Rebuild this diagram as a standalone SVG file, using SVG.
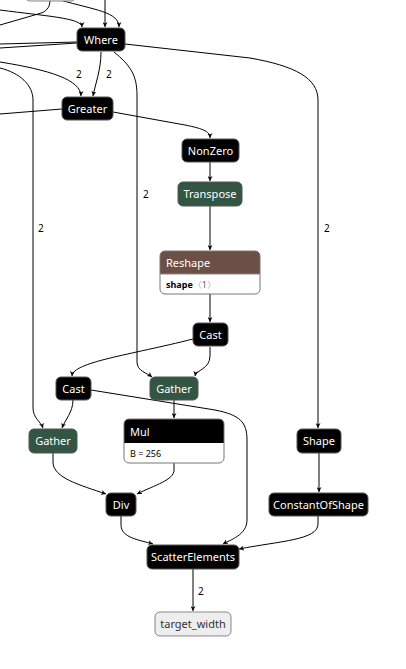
<svg xmlns="http://www.w3.org/2000/svg" width="406" height="669" viewBox="0 0 406 669">
<defs>
<marker id="arr" viewBox="0 0 10 10" refX="10" refY="5" markerWidth="5" markerHeight="5" orient="auto" markerUnits="userSpaceOnUse">
<path d="M0,0 L10,5 L0,10 L3,5 z" fill="#000"/>
</marker>
<style>
.e{fill:none;stroke:#000;stroke-width:1}
.a{marker-end:url(#arr)}
.lbl{font-family:"Noto Sans","Liberation Sans",sans-serif;font-size:10px;fill:#000}
.blk{fill:#000;stroke:#555;stroke-width:1}
.grn{fill:#335544;stroke:#555;stroke-width:1}
.t{font-family:"Noto Sans","Liberation Sans",sans-serif;font-size:11px;fill:#fff;text-anchor:middle}
.hl{font-family:"Noto Sans","Liberation Sans",sans-serif;font-size:11px;fill:#fff}
.at{font-family:"Noto Sans","Liberation Sans",sans-serif;font-size:9px;fill:#000}
</style>
</defs>
<rect width="406" height="669" fill="#fff"/>
<g id="connectors">
<path class="e" d="M50,0 C50,8 46,12 38,14 L0,25"/>
<path class="e a" d="M60,0 C95,10 119,12 119,27"/>
<path class="e a" d="M0,10 C45,16 82,18 82,27"/>
<path class="e a" d="M105,0 L105,27"/>
<path class="e" d="M77,42 L0,44"/>
<path class="e" d="M77,43 L0,48"/>
<path class="e a" d="M0,62 C50,70 81,80 81,96"/>
<path class="e a" d="M101,52 C101,70 95,85 93,96"/>
<path class="e a" d="M0,68 C20,73 33,85 33,100 L33,408 C33,418 41,422 43,428"/>
<path class="e a" d="M114,52 C130,65 137,75 137,95 L137,362 C137,371 147,373 152,377"/>
<path class="e a" d="M125,44 L250,58 C295,66 318,78 318,100 L318,428"/>
<path class="e" d="M62,109 L0,114"/>
<path class="e a" d="M113,112 L185,125 C205,129 210,132 210,138"/>
<path class="e a" d="M210,162 L210,181"/>
<path class="e a" d="M210,206 L210,250"/>
<path class="e a" d="M210,294 L210,322"/>
<path class="e a" d="M193,339 C130,355 73,362 72,376"/>
<path class="e a" d="M210,347 L210,356 C210,369 196,370 195,376"/>
<path class="e a" d="M73,400 C73,412 65,420 62,428"/>
<path class="e a" d="M91,390 L215,410 C240,415 247,422 247,440 L247,520 C247,535 230,540 223,544"/>
<path class="e a" d="M174,400 L174,418"/>
<path class="e a" d="M53,453 L53,462 C53,478 80,485 106,494"/>
<path class="e a" d="M174,463 L174,470 C174,480 155,485 137,494"/>
<path class="e a" d="M121,516 L121,525 C121,538 140,540 153,544"/>
<path class="e a" d="M319,453 L319,492"/>
<path class="e a" d="M318,516 L318,524 C318,540 280,541 239,549"/>
<path class="e a" d="M193,569 L193,611"/>
<text class="lbl" x="76" y="78">2</text>
<text class="lbl" x="106" y="78">2</text>
<text class="lbl" x="38" y="232">2</text>
<text class="lbl" x="143" y="198">2</text>
<text class="lbl" x="324" y="232">2</text>
<text class="lbl" x="198" y="595">2</text>
</g>
<g id="input-top"><rect x="25" y="-22" width="51" height="23" rx="5" fill="#eee" stroke="#888"/></g>
<g id="Where"><rect class="blk" x="77" y="28" width="48" height="23" rx="5"/><text class="t" x="101" y="44">Where</text></g>
<g id="Greater"><rect class="blk" x="62" y="97" width="51" height="23" rx="5"/><text class="t" x="87.5" y="113">Greater</text></g>
<g id="NonZero"><rect class="blk" x="182" y="139" width="57" height="23" rx="5"/><text class="t" x="210.5" y="155">NonZero</text></g>
<g id="Transpose"><rect class="grn" x="178" y="182" width="64" height="24" rx="5"/><text class="t" x="210" y="198">Transpose</text></g>
<g id="Reshape">
<path d="M160,274 L160,256 Q160,251 165,251 L255,251 Q260,251 260,256 L260,274 Z" fill="#6c4f47"/>
<path d="M160,274 L260,274 L260,289 Q260,294 255,294 L165,294 Q160,294 160,289 Z" fill="#fff"/>
<rect x="160" y="251" width="100" height="43" rx="5" fill="none" stroke="#777"/>
<line x1="160" y1="274" x2="260" y2="274" stroke="#888"/>
<text class="hl" x="166" y="267">Reshape</text>
<text class="at" x="166" y="288"><tspan font-weight="bold">shape</tspan><tspan fill="#666">〈1〉</tspan></text>
</g>
<g id="Cast1"><rect class="blk" x="193" y="323" width="35" height="23" rx="5"/><text class="t" x="210.5" y="339">Cast</text></g>
<g id="Cast2"><rect class="blk" x="56" y="377" width="35" height="23" rx="5"/><text class="t" x="73.5" y="393">Cast</text></g>
<g id="Gather1"><rect class="grn" x="150" y="377" width="48" height="23" rx="5"/><text class="t" x="174" y="393">Gather</text></g>
<g id="Gather2"><rect class="grn" x="29" y="429" width="48" height="24" rx="5"/><text class="t" x="53" y="445">Gather</text></g>
<g id="Mul">
<path d="M124,443 L124,424 Q124,419 129,419 L219,419 Q224,419 224,424 L224,443 Z" fill="#000"/>
<path d="M124,443 L224,443 L224,458 Q224,463 219,463 L129,463 Q124,463 124,458 Z" fill="#fff"/>
<rect x="124" y="419" width="100" height="44" rx="5" fill="none" stroke="#777"/>
<text class="hl" x="130" y="436">Mul</text>
<text class="at" x="130" y="457">B = 256</text>
</g>
<g id="Shape"><rect class="blk" x="297" y="429" width="44" height="24" rx="5"/><text class="t" x="319" y="445">Shape</text></g>
<g id="Div"><rect class="blk" x="106" y="493" width="30" height="23" rx="5"/><text class="t" x="121" y="509">Div</text></g>
<g id="ConstantOfShape"><rect class="blk" x="269" y="493" width="99" height="23" rx="5"/><text class="t" x="318.5" y="509">ConstantOfShape</text></g>
<g id="ScatterElements"><rect class="blk" x="147" y="545" width="92" height="24" rx="5"/><text class="t" x="193" y="561">ScatterElements</text></g>
<g id="target_width"><rect x="155" y="612" width="76" height="24" rx="5" fill="#eee" stroke="#888"/><text class="t" x="193" y="628" style="fill:#333">target_width</text></g>
</svg>
